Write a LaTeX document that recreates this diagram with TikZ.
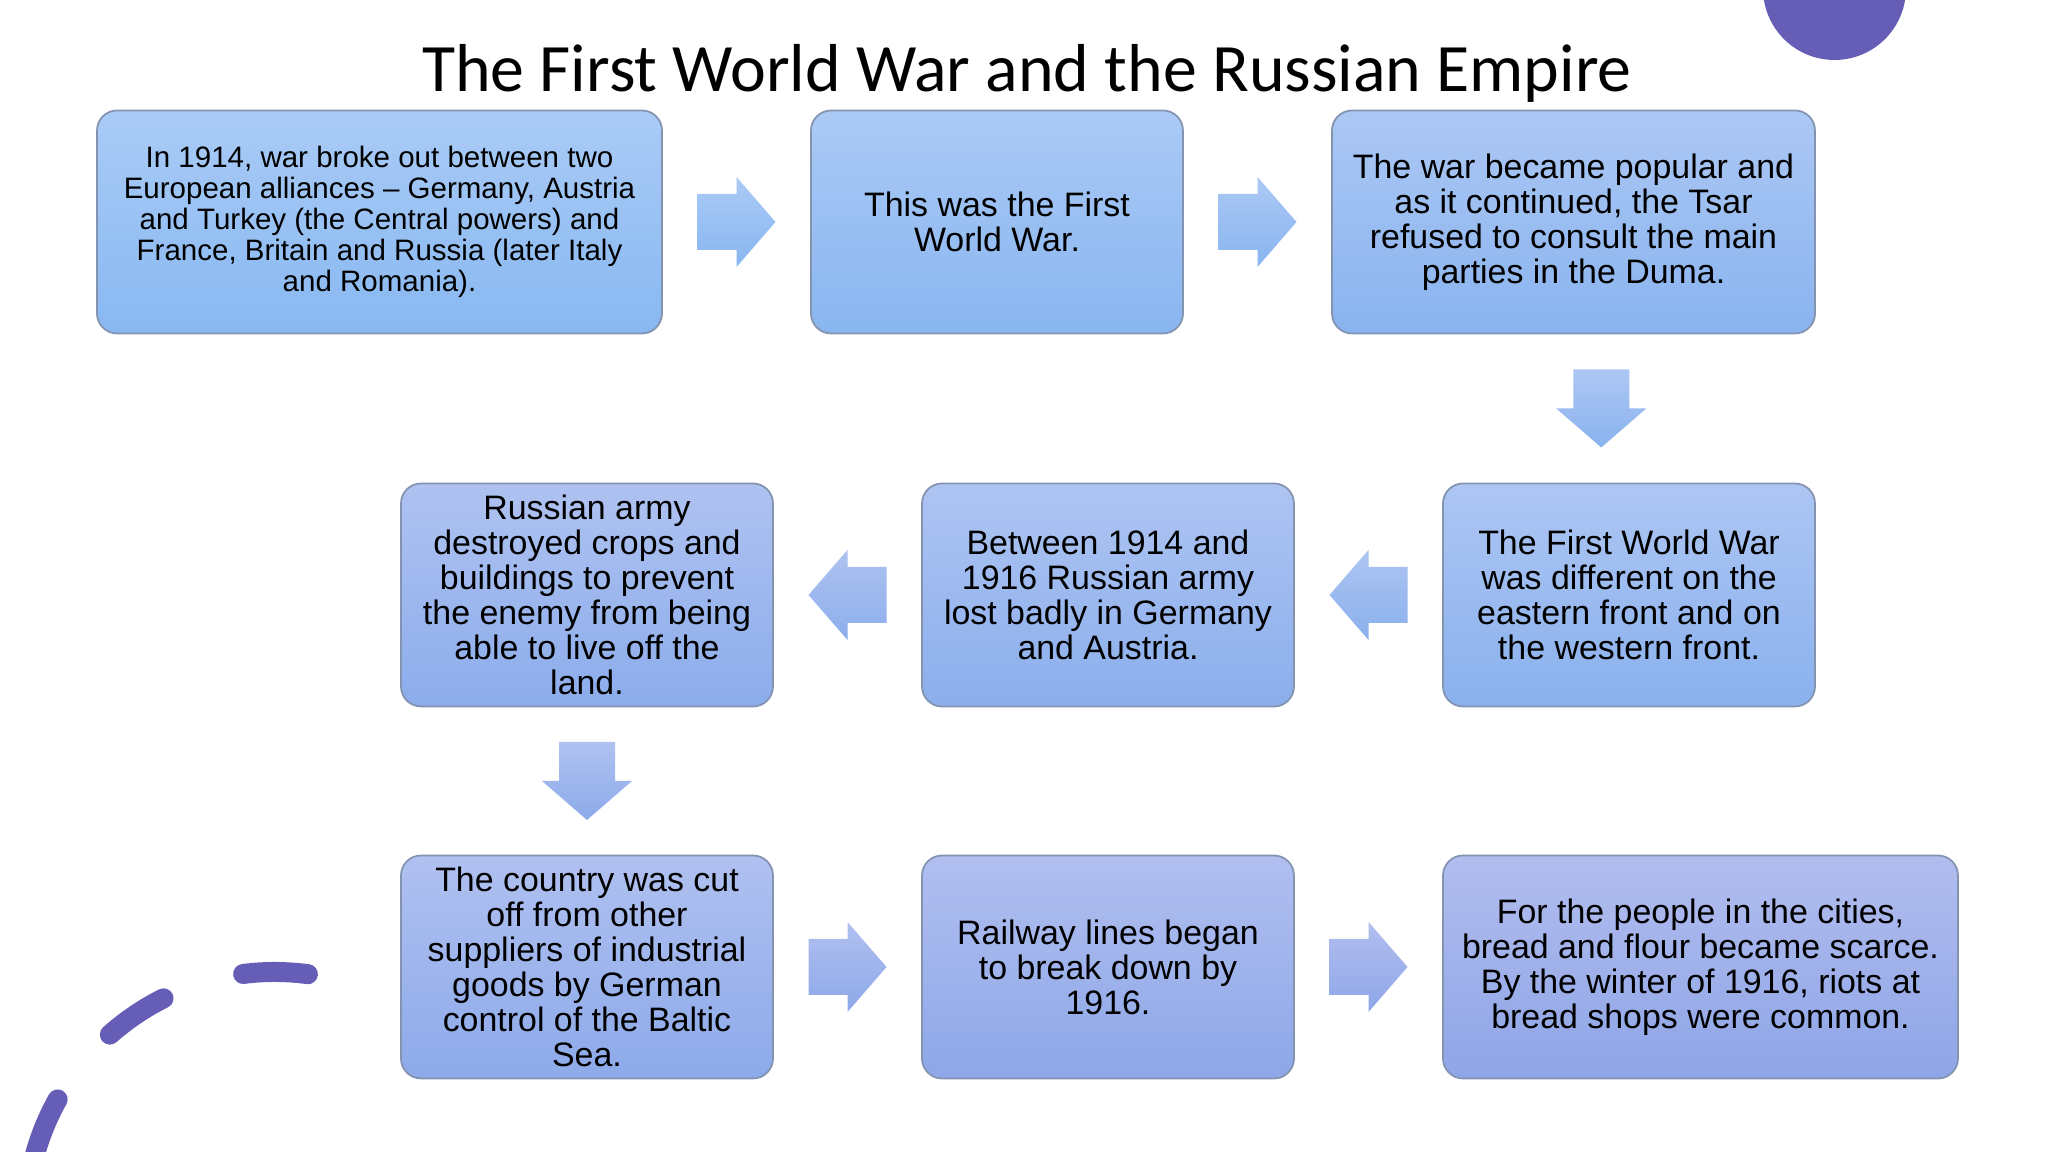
\documentclass[tikz,border=0pt]{standalone}
\usepackage{fontspec}
\setmainfont{Liberation Sans}
\newfontfamily\titlefont{Carlito}
\usetikzlibrary{calc}

\definecolor{skytop}{HTML}{AACBF6}
\definecolor{skybot}{HTML}{88B8F1}
\definecolor{lilactop}{HTML}{B2BDEE}
\definecolor{lilacbot}{HTML}{8EA5E7}
\definecolor{cardline}{HTML}{8494B0}
\definecolor{plum}{HTML}{665EB6}

\tikzset{
	card/.style={rectangle, rounded corners=0.2cm, draw=cardline, line width=0.5pt,
		top color=skytop!#1!lilactop, bottom color=skybot!#1!lilacbot,
		align=center, inner sep=0pt, minimum height=2.23cm,
		font=\fontsize{9.65}{9.96}\selectfont},
}
% block arrows: centre, direction (1 or -1), colour mix
\newcommand{\sidearrow}[3]{\shade[top color=skytop!#3!lilactop, bottom color=skybot!#3!lilacbot, shift={(#1)}, xscale=#2] (-0.39,-0.28) -- (0,-0.28) -- (0,-0.45) -- (0.39,0) -- (0,0.45) -- (0,0.28) -- (-0.39,0.28) -- cycle;}
\newcommand{\droparrow}[2]{\shade[top color=skytop!#2!lilactop, bottom color=skybot!#2!lilacbot, shift={(#1)}] (-0.28,0.39) -- (0.28,0.39) -- (0.28,0) -- (0.45,0) -- (0,-0.39) -- (-0.45,0) -- (-0.28,0) -- cycle;}

\begin{document}
\begin{tikzpicture}
	\useasboundingbox (0,0) rectangle (20.48,11.52);
	\fill[white] (0,0) rectangle (20.48,11.52);
	\clip (0,0) rectangle (20.48,11.52);
	
	\node[font=\titlefont\fontsize{19.3}{23}\selectfont, anchor=base] (title) at (10.27,10.60) {The First World War and the Russian Empire};
	
	% top row
	\node[card=100, minimum width=5.65cm, font=\fontsize{8.4}{8.82}\selectfont] (outbreak) at (3.795,9.30) {In 1914, war broke out between two\\European alliances – Germany, Austria\\and Turkey (the Central powers) and\\France, Britain and Russia (later Italy\\and Romania).};
	\node[card=88, minimum width=3.72cm] (firstwar) at (9.97,9.30) {This was the First\\World War.};
	\node[card=75, minimum width=4.83cm] (duma) at (15.735,9.30) {The war became popular and\\as it continued, the Tsar\\refused to consult the main\\parties in the Duma.};
	
	% middle row
	\node[card=62, minimum width=3.72cm] (fronts) at (16.29,5.57) {The First World War\\was different on the\\eastern front and on\\the western front.};
	\node[card=50, minimum width=3.72cm] (defeats) at (11.08,5.57) {Between 1914 and\\1916 Russian army\\lost badly in Germany\\and Austria.};
	\node[card=38, minimum width=3.72cm] (scorched) at (5.87,5.57) {Russian army\\destroyed crops and\\buildings to prevent\\the enemy from being\\able to live off the\\land.};
	
	% bottom row
	\node[card=25, minimum width=3.72cm] (baltic) at (5.87,1.85) {The country was cut\\off from other\\suppliers of industrial\\goods by German\\control of the Baltic\\Sea.};
	\node[card=12, minimum width=3.72cm] (railway) at (11.08,1.85) {Railway lines began\\to break down by\\1916.};
	\node[card=0, minimum width=5.15cm] (bread) at (17.005,1.85) {For the people in the cities,\\bread and flour became scarce.\\By the winter of 1916, riots at\\bread shops were common.};
	
	\sidearrow{$(outbreak.east)!0.5!(firstwar.west)$}{1}{94}
	\sidearrow{$(firstwar.east)!0.5!(duma.west)$}{1}{81}
	\droparrow{$(duma.south)!0.5!(fronts.north)$}{69}
	\sidearrow{$(fronts.west)!0.5!(defeats.east)$}{-1}{56}
	\sidearrow{$(defeats.west)!0.5!(scorched.east)$}{-1}{44}
	\droparrow{$(scorched.south)!0.5!(baltic.north)$}{31}
	\sidearrow{$(baltic.east)!0.5!(railway.west)$}{1}{19}
	\sidearrow{$(railway.east)!0.5!(bread.west)$}{1}{6}
	
	\fill[plum] (18.345,11.635) circle (0.715);
	\draw[plum, line width=0.2cm, line cap=round, dash pattern=on 0.65cm off 0.836cm] ([shift={(82.4:2.49)}]2.75,-0.69) arc[start angle=82.4, end angle=200, radius=2.49];
\end{tikzpicture}
\end{document}
